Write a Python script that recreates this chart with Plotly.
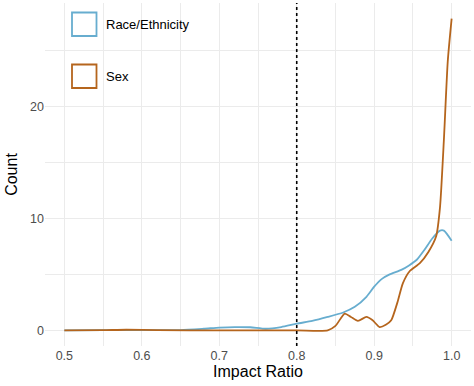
import plotly.graph_objects as go

# Density curves
race_x = [0.50, 0.55, 0.60, 0.65, 0.68, 0.70, 0.72, 0.74, 0.76, 0.78, 0.80, 0.82, 0.84, 0.86,
          0.875, 0.89, 0.90, 0.91, 0.92, 0.935, 0.945, 0.955, 0.965, 0.975, 0.985, 0.99, 1.00]
race_y = [0.0, 0.02, 0.02, 0.03, 0.15, 0.25, 0.3, 0.28, 0.15, 0.3, 0.6, 0.85, 1.2, 1.6,
          2.1, 3.0, 3.9, 4.6, 5.0, 5.4, 5.8, 6.3, 7.2, 8.2, 8.9, 8.9, 8.0]

sex_x = [0.50, 0.55, 0.58, 0.62, 0.70, 0.80, 0.84, 0.85, 0.862, 0.87, 0.879, 0.89, 0.898, 0.907,
         0.915, 0.922, 0.93, 0.937, 0.946, 0.959, 0.97, 0.98, 0.985, 0.99, 0.995, 1.00]
sex_y = [0.0, 0.02, 0.06, 0.02, 0.0, 0.0, 0.0, 0.4, 1.5, 1.2, 0.85, 1.2, 0.9, 0.3,
         0.5, 0.9, 2.5, 4.2, 5.3, 6.0, 7.0, 8.4, 11.0, 17.0, 24.0, 27.8]

series_names = ["Race/Ethnicity", "Sex"]
series_colors = ["#67ADCF", "#B5651D"]

x_ticks = [0.5, 0.6, 0.7, 0.8, 0.9, 1.0]
y_ticks = [0, 10, 20]
threshold = 0.8

W, H = 474, 386
ML, MR, MT, MB = 45, 3, 3, 40
PW, PH = W - ML - MR, H - MT - MB

fig = go.Figure()
for xs, ys, name, col in [(race_x, race_y, series_names[0], series_colors[0]),
                          (sex_x, sex_y, series_names[1], series_colors[1])]:
    fig.add_trace(go.Scatter(x=xs, y=ys, mode="lines", name=name,
                             line=dict(color=col, width=1.8, shape="spline", smoothing=0.6),
                             showlegend=False))

fig.add_shape(type="line", x0=threshold, x1=threshold, y0=0, y1=1, yref="paper",
              line=dict(color="black", width=1.6, dash="dot"))

# manual legend (outlined keys), positions in pixels converted to paper coords
def px(xp):
    return (xp - ML) / PW

def py(yp):
    return 1 - (yp - MT) / PH

key_tops = [12.5, 64.5]
for name, col, top in zip(series_names, series_colors, key_tops):
    fig.add_shape(type="rect", xref="paper", yref="paper",
                  x0=px(72), x1=px(96.5), y0=py(top + 23.5), y1=py(top),
                  line=dict(color=col, width=1.8), fillcolor="rgba(0,0,0,0)")
    fig.add_annotation(text=name, xref="paper", yref="paper", x=px(104), y=py(top + 12),
                       xanchor="left", yanchor="middle", showarrow=False,
                       font=dict(family="Liberation Sans, Arial", size=13, color="black"))

grid = "#EBEBEB"
fig.update_layout(
    width=W, height=H,
    margin=dict(l=ML, r=MR, t=MT, b=MB, autoexpand=False),
    paper_bgcolor="white", plot_bgcolor="white",
    font=dict(family="Liberation Sans, Arial", color="black"),
    xaxis=dict(range=[0.475, 1.025], tickvals=x_ticks, tickformat=".1f",
               showgrid=True, gridcolor=grid, gridwidth=1.3, zeroline=False,
               showline=False, ticks="", automargin=False,
               tickfont=dict(size=12.5, color="#4D4D4D"),
               minor=dict(dtick=0.05, tick0=0.5, showgrid=True, gridcolor=grid, gridwidth=0.7),
               title=dict(text="Impact Ratio", font=dict(size=16, color="black"), standoff=4)),
    yaxis=dict(range=[-1.39, 29.2], tickvals=y_ticks,
               showgrid=True, gridcolor=grid, gridwidth=1.3, zeroline=False,
               showline=False, ticks="", automargin=False,
               tickfont=dict(size=12.5, color="#4D4D4D"),
               minor=dict(dtick=5, tick0=0, showgrid=True, gridcolor=grid, gridwidth=0.7),
               title=dict(text="Count", font=dict(size=16, color="black"), standoff=8)),
)

fig.write_html("out.html", config={"displayModeBar": False},
               post_script="document.body.style.margin='0';document.body.style.padding='0';")
